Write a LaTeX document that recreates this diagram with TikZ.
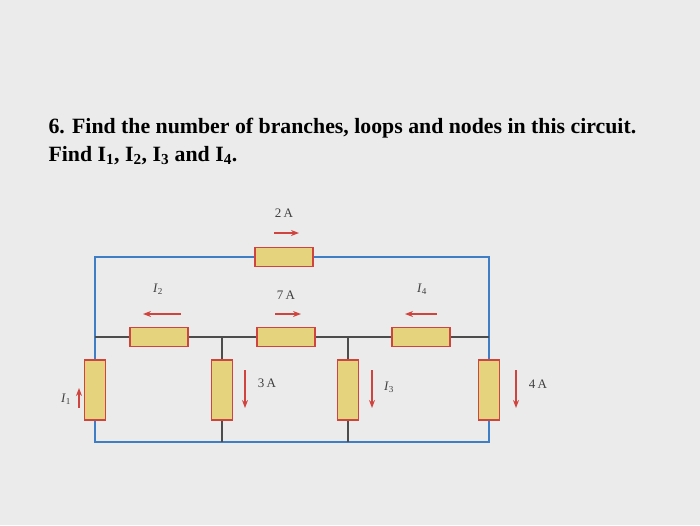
\documentclass[tikz,border=0pt]{standalone}
\usepackage{fontspec}
\setmainfont{Liberation Serif}
\usetikzlibrary{arrows.meta}
\begin{document}
\begin{tikzpicture}[x=1pt,y=-1pt,
 wb/.style={draw=wireblue,line width=2pt},
 wg/.style={draw=black!70,line width=1.8pt},
 res/.style={draw=resred,fill=resfill,line width=1.8pt,inner sep=0pt},
 hres/.style={res,minimum width=58pt,minimum height=19pt},
 vres/.style={res,minimum width=21pt,minimum height=60pt},
 cur/.style={draw=resred,line width=1.6pt,-{Stealth[length=8pt,width=6pt]}},
 lab/.style={font=\fontsize{13}{14}\selectfont,text=black!75}]
\definecolor{wireblue}{HTML}{3F7EC4}
\definecolor{resred}{HTML}{D0443F}
\definecolor{resfill}{HTML}{E6D37E}
\fill[black!8] (0,0) rectangle (700,525);
\useasboundingbox (0,0) rectangle (700,525);
\node[anchor=west,font=\fontsize{21.8}{26}\selectfont\bfseries] (t1) at (45,128) {6. Find the number of branches, loops and nodes in this circuit.};
\node[anchor=west,font=\fontsize{21.8}{26}\selectfont\bfseries] (t2) at (45,156) {Find I\textsubscript{1}, I\textsubscript{2}, I\textsubscript{3} and I\textsubscript{4}.};
% nodes
\coordinate (tl) at (95,257); \coordinate (tr) at (489,257);
\coordinate (ml) at (95,337); \coordinate (ma) at (222,337); \coordinate (mb) at (348,337); \coordinate (mr) at (489,337);
\coordinate (bl) at (95,442); \coordinate (ba) at (222,442); \coordinate (bb) at (348,442); \coordinate (br) at (489,442);
\node[hres] (rt) at (284,257) {};
\node[hres] (r2) at (159,337) {};
\node[hres] (r7) at (286,337) {};
\node[hres] (r4) at (421,337) {};
\node[vres] (v1) at (95,390) {};
\node[vres] (v3) at (222,390) {};
\node[vres] (vI3) at (348,390) {};
\node[vres] (v4) at (489,390) {};
% wires
\draw[wb] (v1.north) -- (ml) -- (tl) -- (rt.west);
\draw[wb] (rt.east) -- (tr) -- (mr) -- (v4.north);
\draw[wb] (v1.south) -- (bl) -- (br) -- (v4.south);
\draw[wg] (ml) -- (r2.west); \draw[wg] (r2.east) -- (ma) -- (r7.west);
\draw[wg] (r7.east) -- (mb) -- (r4.west); \draw[wg] (r4.east) -- (mr);
\draw[wg] (ma) -- (v3.north); \draw[wg] (v3.south) -- (ba);
\draw[wg] (mb) -- (vI3.north); \draw[wg] (vI3.south) -- (bb);
% currents
\node[lab] (l2a) at (284,213) {2\,A};
\coordinate (a2s) at (274,233); \coordinate (a2e) at (299,233); \draw[cur] (a2s) -- (a2e);
\node[lab] (lI2) at (158,289) {\textit{I}\textsubscript{2}};
\coordinate (i2s) at (181,314); \coordinate (i2e) at (143,314); \draw[cur] (i2s) -- (i2e);
\node[lab] (l7) at (286,295) {7\,A};
\coordinate (a7s) at (275,314); \coordinate (a7e) at (301,314); \draw[cur] (a7s) -- (a7e);
\node[lab] (lI4) at (422,289) {\textit{I}\textsubscript{4}};
\coordinate (i4s) at (437,314); \coordinate (i4e) at (405,314); \draw[cur] (i4s) -- (i4e);
\node[lab] (lI1) at (66,399) {\textit{I}\textsubscript{1}};
\coordinate (i1s) at (79,408); \coordinate (i1e) at (79,388); \draw[cur] (i1s) -- (i1e);
\node[lab] (l3) at (267,383) {3\,A};
\coordinate (a3s) at (245,370); \coordinate (a3e) at (245,408); \draw[cur] (a3s) -- (a3e);
\node[lab] (lI3) at (389,387) {\textit{I}\textsubscript{3}};
\coordinate (i3s) at (372,370); \coordinate (i3e) at (372,408); \draw[cur] (i3s) -- (i3e);
\node[lab] (l4) at (538,384) {4\,A};
\coordinate (a4s) at (516,370); \coordinate (a4e) at (516,408); \draw[cur] (a4s) -- (a4e);
\end{tikzpicture}
\end{document}
